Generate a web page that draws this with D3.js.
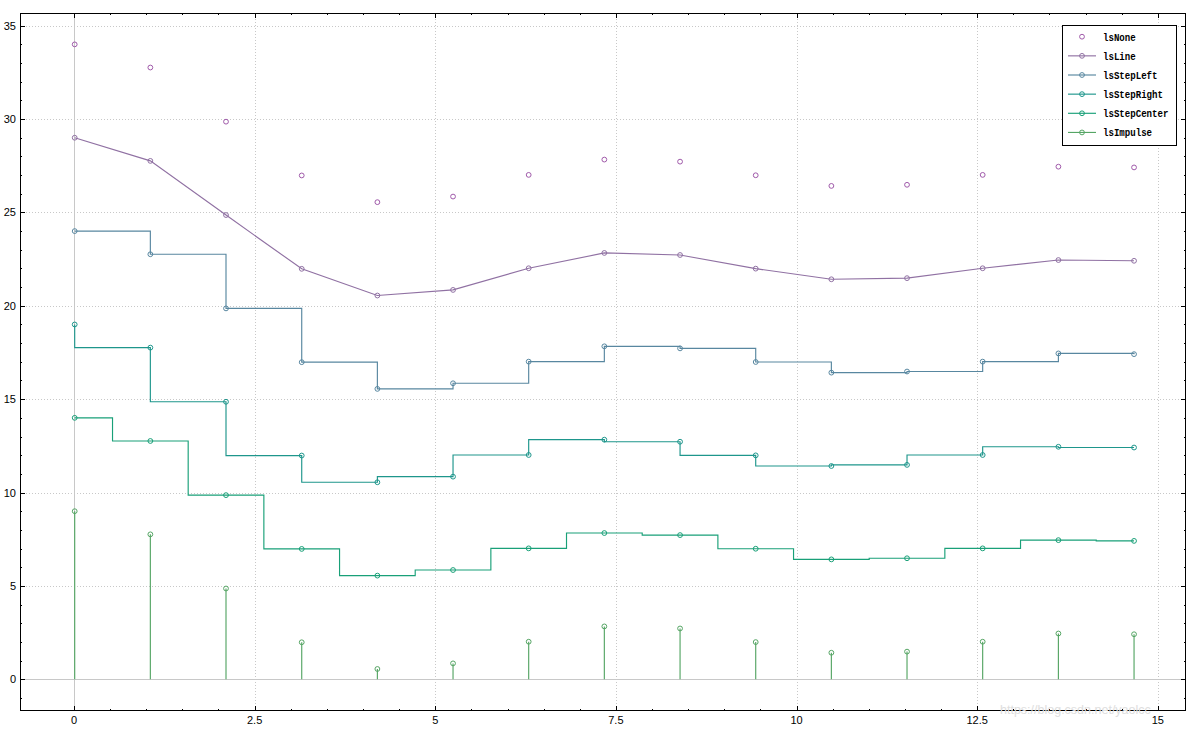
<!DOCTYPE html>
<html><head><meta charset="utf-8">
<script src="https://cdn.jsdelivr.net/npm/d3@7"></script>
<style>html,body{margin:0;padding:0;background:#fff;overflow:hidden}</style>
</head><body>
<svg id="chart" width="1200" height="730"></svg>
<script>
// ---- data ----
const xValues = [0.01, 1.057, 2.104, 3.152, 4.199, 5.246, 6.293, 7.340, 8.388, 9.435, 10.482, 11.529, 12.576, 13.624, 14.671];
const lsNone       = [34.00, 32.76, 29.86, 26.98, 25.55, 25.85, 27.01, 27.83, 27.72, 26.99, 26.42, 26.48, 27.01, 27.45, 27.41];
const lsLine       = [29.00, 27.76, 24.86, 21.98, 20.55, 20.85, 22.01, 22.83, 22.72, 21.99, 21.42, 21.48, 22.01, 22.45, 22.41];
const lsStepLeft   = [24.00, 22.76, 19.86, 16.98, 15.55, 15.85, 17.01, 17.83, 17.72, 16.99, 16.42, 16.48, 17.01, 17.45, 17.41];
const lsStepRight  = [19.00, 17.76, 14.86, 11.98, 10.55, 10.85, 12.01, 12.83, 12.72, 11.99, 11.42, 11.48, 12.01, 12.45, 12.41];
const lsStepCenter = [14.00, 12.76,  9.86,  6.98,  5.55,  5.85,  7.01,  7.83,  7.72,  6.99,  6.42,  6.48,  7.01,  7.45,  7.41];
const lsImpulse    = [ 9.00,  7.76,  4.86,  1.98,  0.55,  0.85,  2.01,  2.83,  2.72,  1.99,  1.42,  1.48,  2.01,  2.45,  2.41];
const seriesNames  = ["lsNone", "lsLine", "lsStepLeft", "lsStepRight", "lsStepCenter", "lsImpulse"];
const seriesValues = [lsNone, lsLine, lsStepLeft, lsStepRight, lsStepCenter, lsImpulse];
const seriesColors = ["rgb(160,90,170)", "rgb(144,113,163)", "rgb(88,135,160)", "rgb(30,150,140)", "rgb(25,160,120)", "rgb(85,165,100)"];
const xTickLabels = ["0", "2.5", "5", "7.5", "10", "12.5", "15"];
const yTickLabels = ["0", "5", "10", "15", "20", "25", "30", "35"];

// ---- layout ----
const L = 20, T = 13, R = 1186, B = 711;
const svg = d3.select("#chart");
const x = d3.scaleLinear().domain([-0.747, 15.39]).range([L, R]);
const y = d3.scaleLinear().domain([-1.70, 35.68]).range([B, T]);
const xMajor = xTickLabels.map(Number), yMajor = yTickLabels.map(Number);
const xMinor = d3.range(0, 31).map(i => i * 0.5).filter(v => !xMajor.includes(v));
const yMinor = d3.range(-1, 36).filter(v => !yMajor.includes(v));
const gridCol = "rgb(200,200,200)";

svg.append("rect").attr("width", 1200).attr("height", 730).attr("fill", "#fff");

// grid
const grid = svg.append("g");
xMajor.filter(v => v !== 0).forEach(v => grid.append("line")
  .attr("x1", Math.round(x(v)) + 0.5).attr("x2", Math.round(x(v)) + 0.5).attr("y1", T).attr("y2", B)
  .attr("stroke", gridCol).attr("stroke-dasharray", "1,2"));
yMajor.filter(v => v !== 0).forEach(v => grid.append("line")
  .attr("y1", Math.round(y(v)) + 0.5).attr("y2", Math.round(y(v)) + 0.5).attr("x1", L).attr("x2", R)
  .attr("stroke", gridCol).attr("stroke-dasharray", "1,2"));
grid.append("line").attr("x1", Math.round(x(0)) + 0.5).attr("x2", Math.round(x(0)) + 0.5).attr("y1", T).attr("y2", B).attr("stroke", gridCol);
grid.append("line").attr("y1", Math.round(y(0)) + 0.5).attr("y2", Math.round(y(0)) + 0.5).attr("x1", L).attr("x2", R).attr("stroke", gridCol);

// graphs
const plot = svg.append("g");
const curves = [null, d3.curveLinear, d3.curveStepAfter, d3.curveStepBefore, d3.curveStep, null];
seriesValues.forEach((vals, i) => {
  const pts = xValues.map((xv, j) => [xv, vals[j]]);
  const col = seriesColors[i];
  if (curves[i]) {
    plot.append("path")
      .attr("d", d3.line().x(d => x(d[0])).y(d => y(d[1])).curve(curves[i])(pts))
      .attr("fill", "none").attr("stroke", col).attr("stroke-width", 1.15);
  }
  if (i === 5) {
    plot.selectAll(null).data(pts).enter().append("line")
      .attr("x1", d => x(d[0])).attr("x2", d => x(d[0]))
      .attr("y1", y(0)).attr("y2", d => y(d[1]))
      .attr("stroke", col).attr("stroke-width", 1.15);
  }
  plot.selectAll(null).data(pts).enter().append("circle")
    .attr("cx", d => x(d[0])).attr("cy", d => y(d[1])).attr("r", 2.4)
    .attr("fill", "none").attr("stroke", col).attr("stroke-width", 1);
});

// axes frame and ticks (inward, all four sides)
const ax = svg.append("g").attr("stroke", "#000");
ax.append("rect").attr("x", L + 0.5).attr("y", T + 0.5).attr("width", R - L - 1).attr("height", B - T - 1)
  .attr("fill", "none").attr("stroke", "#000");
function xt(vals, len) {
  vals.forEach(v => {
    const px = Math.round(x(v)) + 0.5;
    ax.append("line").attr("x1", px).attr("x2", px).attr("y1", B).attr("y2", B - len);
    ax.append("line").attr("x1", px).attr("x2", px).attr("y1", T).attr("y2", T + len);
  });
}
function yt(vals, len) {
  vals.forEach(v => {
    const py = Math.round(y(v)) + 0.5;
    ax.append("line").attr("y1", py).attr("y2", py).attr("x1", L).attr("x2", L + len);
    ax.append("line").attr("y1", py).attr("y2", py).attr("x1", R).attr("x2", R - len);
  });
}
xt(xMajor, 5); xt(xMinor, 2); yt(yMajor, 5); yt(yMinor, 2);

const lab = svg.append("g").attr("font-family", "Liberation Sans, Arial, sans-serif").attr("font-size", 11).attr("fill", "#000");
xTickLabels.forEach(t => lab.append("text").attr("x", x(+t)).attr("y", 724).attr("text-anchor", "middle").text(t));
yTickLabels.forEach(t => lab.append("text").attr("x", 16).attr("y", y(+t) + 4).attr("text-anchor", "end").text(t));

// legend
const lg = svg.append("g");
lg.append("rect").attr("x", 1062.5).attr("y", 25.5).attr("width", 114).attr("height", 120)
  .attr("fill", "#fff").attr("stroke", "#000");
seriesNames.forEach((n, i) => {
  const cy = 36.7 + i * 19.15;
  const col = seriesColors[i];
  if (i > 0) lg.append("line").attr("x1", 1068).attr("x2", 1096).attr("y1", cy).attr("y2", cy).attr("stroke", col).attr("stroke-width", 1.15);
  lg.append("circle").attr("cx", 1082).attr("cy", cy).attr("r", 2.4).attr("fill", "none").attr("stroke", col).attr("stroke-width", 1);
  lg.append("text").attr("x", 1103).attr("y", cy + 4).attr("font-family", "Liberation Mono, monospace")
    .attr("font-size", 11).attr("font-weight", "bold").attr("fill", "#000")
    .attr("textLength", n.length * 5.45).attr("lengthAdjust", "spacingAndGlyphs").text(n);
});

// watermark
svg.append("text").attr("x", 1000).attr("y", 714).attr("font-family", "Liberation Sans, Arial, sans-serif")
  .attr("font-size", 12.5).attr("fill", "rgb(222,222,222)")
  .text("https://blog.csdn.net/yaolcc");
</script>
</body></html>
